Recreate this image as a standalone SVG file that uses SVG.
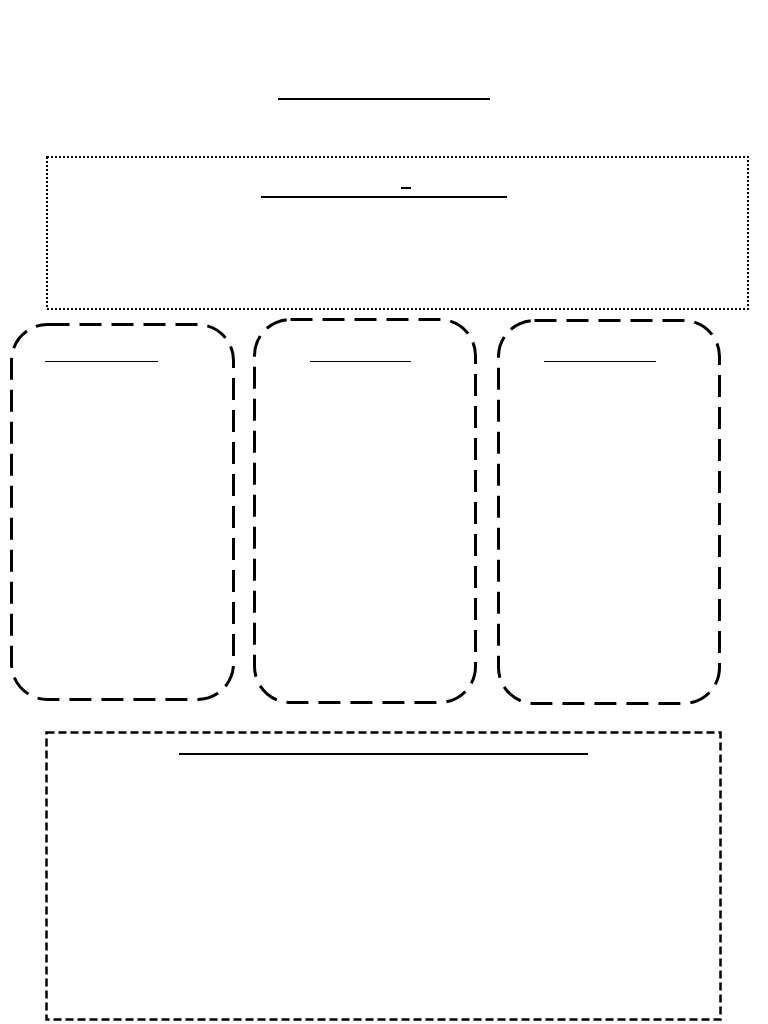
<svg xmlns="http://www.w3.org/2000/svg" width="768" height="1024" viewBox="0 0 768 1024">
<style>
.rule{stroke:#000;fill:none}
.card{fill:none;stroke:#000;stroke-width:3;stroke-dasharray:22 10}
</style>
<rect width="768" height="1024" fill="#fff"/>
<g id="title"><line class="rule" x1="278" y1="99" x2="490" y2="99" stroke-width="2"/></g>
<g id="top-box">
<rect x="47" y="157" width="701" height="152" fill="none" stroke="#000" stroke-width="2" stroke-dasharray="2 2"/>
<line class="rule" x1="261" y1="197" x2="507" y2="197" stroke-width="2"/>
<line class="rule" x1="401" y1="188" x2="411" y2="188" stroke-width="2"/>
</g>
<g id="card1">
<rect class="card" x="11.5" y="324.5" width="222" height="375" rx="36"/>
<line class="rule" x1="45" y1="361.5" x2="158" y2="361.5" stroke-width="1"/>
</g>
<g id="card2">
<rect class="card" x="254.5" y="319.5" width="221" height="383" rx="36"/>
<line class="rule" x1="310" y1="361.5" x2="411" y2="361.5" stroke-width="1"/>
</g>
<g id="card3">
<rect class="card" x="498.5" y="320.5" width="221" height="383" rx="36"/>
<line class="rule" x1="544" y1="361.5" x2="656" y2="361.5" stroke-width="1"/>
</g>
<g id="bottom-box">
<rect x="46.5" y="732.5" width="674" height="287" fill="none" stroke="#000" stroke-width="2.5" stroke-dasharray="8 4"/>
<line class="rule" x1="179" y1="754" x2="588" y2="754" stroke-width="2"/>
</g>
<g id="connectors"></g>
</svg>
